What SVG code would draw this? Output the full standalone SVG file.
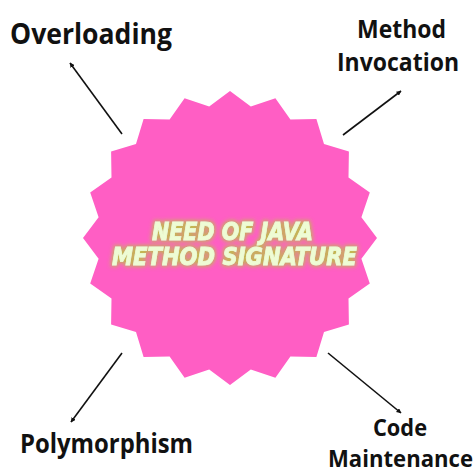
<svg xmlns="http://www.w3.org/2000/svg" width="474" height="474" viewBox="0 0 474 474">
<style>
.lbl{font-family:"Open Sans","Liberation Sans",sans-serif;font-weight:700;fill:#111;}
.cn{stroke:#111;stroke-width:1.6;fill:none;marker-end:url(#ah);}
.ct{font-family:"DejaVu Sans","Liberation Sans",sans-serif;font-weight:700;font-style:italic;font-stretch:condensed;fill:#eefcd4;stroke:#eefcd4;stroke-width:0.8;}
</style>
<defs>
<marker id="ah" viewBox="0 0 10 10" refX="9" refY="5" markerWidth="5" markerHeight="5" orient="auto" markerUnits="userSpaceOnUse">
<path d="M0,0 L10,5 L0,10 z" fill="#111"/>
</marker>
<filter id="glow" x="-20%" y="-50%" width="140%" height="200%">
<feMorphology in="SourceAlpha" operator="dilate" radius="1" result="d"/>
<feGaussianBlur in="d" stdDeviation="2.2" result="b"/>
<feFlood flood-color="#b7c93a" flood-opacity="0.85"/>
<feComposite in2="b" operator="in" result="g"/>
<feMerge><feMergeNode in="g"/><feMergeNode in="SourceGraphic"/></feMerge>
</filter>
</defs>
<rect width="474" height="474" fill="#ffffff"/>
<g id="center">
<polygon fill="#ff5ec4" points="230,91 250.8,106.6 275.4,98.2 290.4,119.5 316.4,119.1 324.0,144.0 348.9,151.6 348.5,177.6 369.8,192.6 361.4,217.2 377,238 361.4,258.8 369.8,283.4 348.5,298.4 348.9,324.4 324.0,332.0 316.4,356.9 290.4,356.5 275.4,377.8 250.8,369.4 230,385 209.2,369.4 184.6,377.8 169.6,356.5 143.6,356.9 136.0,332.0 111.1,324.4 111.5,298.4 90.2,283.4 98.6,258.8 83,238 98.6,217.2 90.2,192.6 111.5,177.6 111.1,151.6 136.0,144.0 143.6,119.1 169.6,119.5 184.6,98.2 209.2,106.6"/>
<g filter="url(#glow)">
<text class="ct" x="152" y="240" font-size="25" textLength="161" lengthAdjust="spacingAndGlyphs">NEED OF JAVA</text>
<text class="ct" x="112" y="265" font-size="25" textLength="245" lengthAdjust="spacingAndGlyphs">METHOD SIGNATURE</text>
</g>
</g>
<g id="connectors">
<line class="cn" x1="122" y1="134" x2="70" y2="63"/>
<line class="cn" x1="343" y1="135" x2="401" y2="91"/>
<line class="cn" x1="122" y1="353" x2="71" y2="422"/>
<line class="cn" x1="328" y1="353" x2="401" y2="413"/>
</g>
<g id="overloading">
<text class="lbl" x="10" y="44" font-size="29" textLength="162" lengthAdjust="spacingAndGlyphs">Overloading</text>
</g>
<g id="method-invocation">
<text class="lbl" x="357" y="38" font-size="25" textLength="89" lengthAdjust="spacingAndGlyphs">Method</text>
<text class="lbl" x="337" y="71" font-size="25" textLength="122" lengthAdjust="spacingAndGlyphs">Invocation</text>
</g>
<g id="polymorphism">
<text class="lbl" x="20" y="453" font-size="26" textLength="173" lengthAdjust="spacingAndGlyphs">Polymorphism</text>
</g>
<g id="code-maintenance">
<text class="lbl" x="373" y="436" font-size="24" textLength="54" lengthAdjust="spacingAndGlyphs">Code</text>
<text class="lbl" x="328" y="467" font-size="24" textLength="145" lengthAdjust="spacingAndGlyphs">Maintenance</text>
</g>
</svg>
